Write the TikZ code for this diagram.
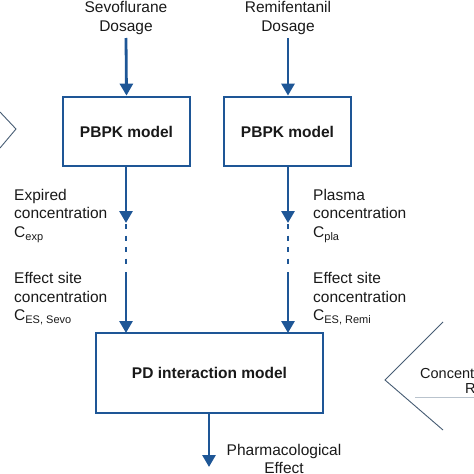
\documentclass[tikz,border=0pt]{standalone}
\usepackage{fontspec}
\setmainfont{Liberation Sans}
\usetikzlibrary{arrows.meta}
\definecolor{mainblue}{RGB}{30,86,150}
\definecolor{txt}{RGB}{25,25,25}
\definecolor{chev}{RGB}{70,92,115}
\definecolor{lightg}{RGB}{185,195,205}
\newcommand{\subtxt}[1]{\raisebox{-3pt}{\fontsize{11}{11}\selectfont #1}}
\tikzset{
  modelbox/.style={draw=mainblue, line width=2.8pt, fill=white, font=\fontsize{15.5}{18.5}\selectfont\bfseries, text=txt, inner sep=0pt},
  lbl/.style={font=\fontsize{15.5}{18.5}\selectfont, text=txt, inner sep=0pt},
  flow/.style={draw=mainblue, line width=2.8pt, -{Triangle[width=13pt,length=12pt]}},
  dashflow/.style={draw=mainblue, line width=2.8pt, dash pattern=on 5pt off 6.5pt},
  chevline/.style={draw=chev, line width=0.9pt}
}
\begin{document}
\begin{tikzpicture}[x=1pt,y=-1pt]
\useasboundingbox (0,0) rectangle (474,474);
% inputs
\node[lbl, align=center] (sevo) at (126,18) {Sevoflurane\\Dosage};
\node[lbl, align=center] (remi) at (288,18) {Remifentanil\\Dosage};
\coordinate (sevoA) at (126,38);
\coordinate (remiA) at (288,38);
% boxes
\node[modelbox, minimum width=127pt, minimum height=69pt] (pb1) at (126.5,131.5) {PBPK model};
\node[modelbox, minimum width=127pt, minimum height=69pt] (pb2) at (287.5,131.5) {PBPK model};
\node[modelbox, minimum width=227pt, minimum height=80pt] (pd) at (209.5,373) {PD interaction model};
% chain coordinates
\coordinate (l1) at (126,223);
\coordinate (l2) at (126,224);
\coordinate (l3) at (126,266);
\coordinate (l4) at (126,272);
\coordinate (r1) at (288,223);
\coordinate (r2) at (288,224);
\coordinate (r3) at (288,266);
\coordinate (r4) at (288,272);
\coordinate (pdL) at (126,333);
\coordinate (pdR) at (288,333);
\coordinate (outE) at (209,467);
% arrows
\draw[flow] (sevoA) -- (pb1.north);
\draw[flow] (remiA) -- (pb2.north -| remiA);
\draw[flow] (pb1.south -| l1) -- (l1);
\draw[dashflow] (l2) -- (l3);
\draw[flow] (l4) -- (pdL);
\draw[flow] (pb2.south -| r1) -- (r1);
\draw[dashflow] (r2) -- (r3);
\draw[flow] (r4) -- (pdR);
\draw[flow] (pd.south -| outE) -- (outE);
% labels
\node[lbl, align=left, anchor=west] (exp) at (14,216) {Expired\\concentration\\C\subtxt{exp}};
\node[lbl, align=left, anchor=west] (es1) at (14,299) {Effect site\\concentration\\C\subtxt{ES, Sevo}};
\node[lbl, align=left, anchor=west] (pla) at (313,216) {Plasma\\concentration\\C\subtxt{pla}};
\node[lbl, align=left, anchor=west] (es2) at (313,299) {Effect site\\concentration\\C\subtxt{ES, Remi}};
\node[lbl, align=center] (eff) at (284,459) {Pharmacological\\Effect};
% side fragments
\draw[chevline] (0,112) -- (16,129) -- (0,148);
\draw[chevline] (443,322) -- (385,380) -- (443,430);
\draw[draw=lightg, line width=1pt] (415,397) -- (474,397);
\begin{scope}
\clip (380,300) rectangle (474,474);
\node[font=\fontsize{14.5}{16}\selectfont, text=txt, inner sep=0pt, anchor=west] (conc) at (420,373) {Concentration};
\node[font=\fontsize{14.5}{16}\selectfont, text=txt, inner sep=0pt, anchor=west] (resp) at (465,390) {Response};
\end{scope}
\end{tikzpicture}
\end{document}
